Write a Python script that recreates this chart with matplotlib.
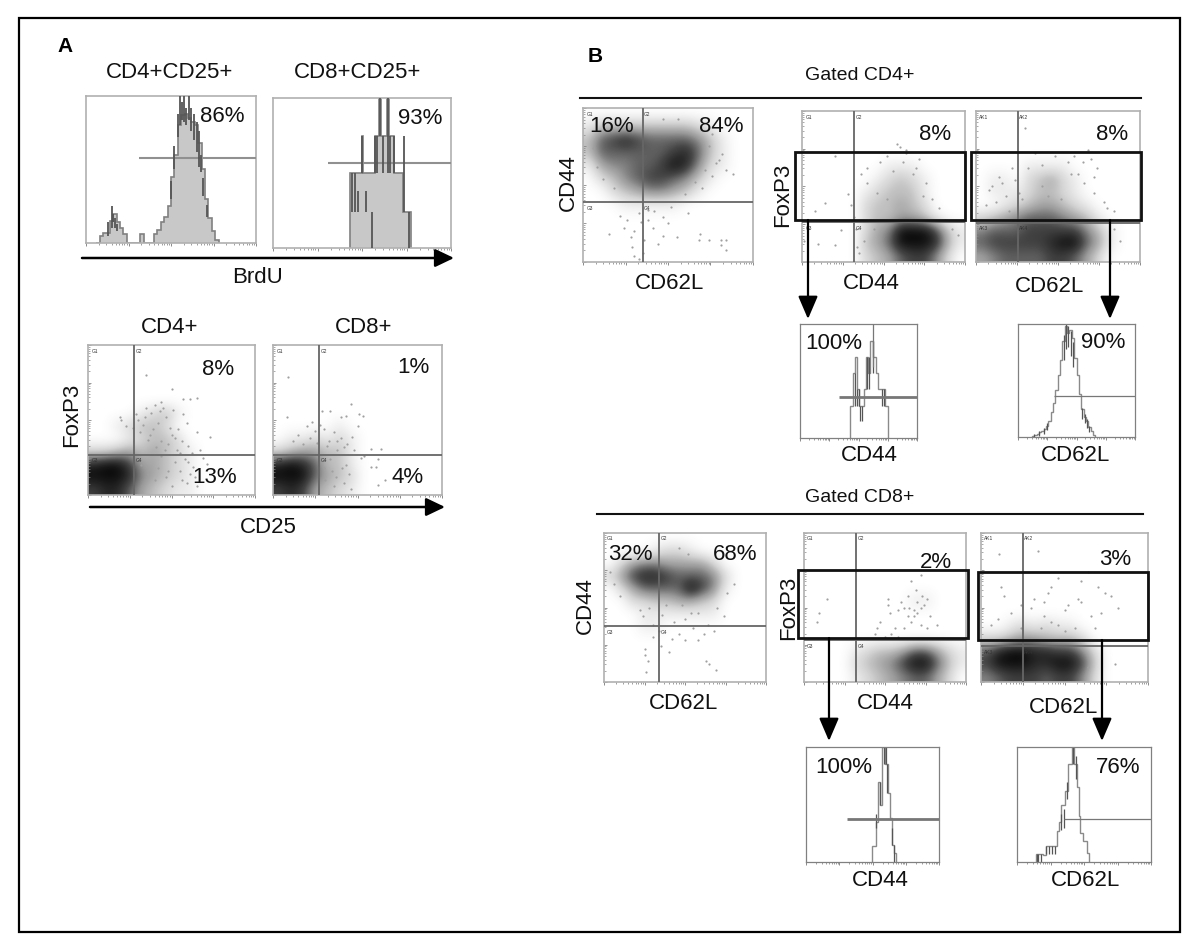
import matplotlib
matplotlib.use('Agg')
import matplotlib.pyplot as plt
import numpy as np
from matplotlib.colors import LinearSegmentedColormap
from matplotlib.patches import Rectangle

plt.rcParams['font.family'] = ['Liberation Sans', 'DejaVu Sans']

W, H = 1200, 946
cmap_dots = LinearSegmentedColormap.from_list('dots', ['#ffffff', '#d4d4d4', '#989898', '#464646', '#0c0c0c'])

# Histograms, x and height in percent of the panel
brdu_cd4_edges = list(range(6, 80, 2))
brdu_cd4_heights = [0, 5, 7, 7, 15, 20, 14, 10, 6, 0, 0, 0, 0, 6, 0, 0, 0, 6, 9, 14, 18, 25, 45, 60, 80, 87, 88, 85,
                    82, 80, 68, 50, 30, 17, 8, 2]
brdu_cd4_spike_x = [13, 15, 16, 17, 18, 50, 52, 54, 55.5, 56.5, 57.5, 59, 60.5, 62, 63.5, 65, 66.5, 67.5, 69, 71]
brdu_cd4_spike_lo = [5, 10, 14, 10, 8, 30, 50, 72, 80, 84, 82, 80, 84, 76, 70, 62, 52, 48, 32, 18]
brdu_cd4_spike_hi = [14, 25, 20, 17, 13, 42, 66, 88, 100, 96, 100, 92, 100, 92, 88, 82, 76, 60, 44, 26]

brdu_cd8_edges = [43.2, 45.7, 49.8, 50.4, 56.4, 57.3, 59.2, 59.6, 60.5, 63, 63.9, 65.4, 67.7, 73.3, 74.2, 77.4]
brdu_cd8_heights = [50, 50, 75, 50, 50, 75, 75, 100, 75, 75, 100, 75, 50, 24, 24]
brdu_cd8_spike_x = [44.5, 46, 48, 49.8, 52.5, 55.7, 57.5, 58.5, 60, 62, 64.5, 66, 68, 73.5, 76.5]
brdu_cd8_spike_lo = [24, 24, 24, 50, 24, 0, 50, 50, 75, 50, 50, 50, 50, 24, 0]
brdu_cd8_spike_hi = [50, 50, 38, 75, 38, 24, 75, 75, 100, 75, 100, 75, 75, 75, 24]

gate_cd44_cd4_edges = [43, 45, 46.6, 48.5, 50.6, 53.4, 54.5, 56.2, 58.2, 60.2, 62.5, 64.8, 67, 69.3, 72.7, 75.6]
gate_cd44_cd4_heights = [28, 57, 71, 43, 28, 28, 43, 71, 57, 85, 71, 57, 43, 43, 28]
gate_cd44_cd4_spike_x = [47, 48.5, 50, 51, 53, 57.4, 59, 62.5, 70.5, 72]
gate_cd44_cd4_spike_lo = [28, 28, 28, 15, 15, 43, 43, 57, 28, 28]
gate_cd44_cd4_spike_hi = [57, 43, 43, 28, 28, 71, 71, 85, 43, 43]

gate_cd62l_cd4_edges = list(range(12, 68, 2))
gate_cd62l_cd4_heights = [1, 2, 3, 4, 5, 7, 10, 14, 22, 30, 42, 55, 68, 85, 98, 92, 95, 88, 70, 55, 38, 25, 18, 14, 9,
                          5, 2]
gate_cd62l_cd4_spike_x = [14, 18, 22, 25, 39, 41, 43, 45, 47, 55, 57, 59, 61]
gate_cd62l_cd4_spike_lo = [0, 1, 3, 6, 68, 78, 80, 72, 62, 16, 12, 8, 4]
gate_cd62l_cd4_spike_hi = [3, 5, 8, 12, 90, 100, 98, 94, 84, 26, 20, 16, 10]

gate_cd44_cd8_edges = [49.25, 52.5, 54.25, 56, 57.5, 59.75, 61.5, 63, 64.75, 66.25, 67.5]
gate_cd44_cd8_heights = [14, 35, 70, 50, 100, 85, 60, 38, 15, 8]
gate_cd44_cd8_spike_x = [53, 55.5, 58.5, 60, 61, 64.5, 66.5]
gate_cd44_cd8_spike_lo = [30, 50, 85, 85, 60, 15, 0]
gate_cd44_cd8_spike_hi = [42, 70, 100, 100, 85, 30, 15]

gate_cd62l_cd8_edges = [14, 19.5, 22, 29.5, 31.5, 33, 36, 38, 41, 42.5, 44.5, 46, 47, 49.5, 52, 53.75]
gate_cd62l_cd8_heights = [7, 6, 14, 27, 35, 50, 62, 85, 100, 85, 65, 40, 25, 18, 8]
gate_cd62l_cd8_spike_x = [15, 16, 18, 22, 24, 26, 28, 33, 35, 37, 42, 44]
gate_cd62l_cd8_spike_lo = [0, 0, 0, 7, 7, 7, 7, 28, 30, 55, 85, 72]
gate_cd62l_cd8_spike_hi = [7, 7, 7, 14, 14, 14, 14, 42, 46, 70, 100, 92]

# Dot plot darkness read per cell, 0 white to 9 black, top row first
foxp3_cd4_density = [
    [0, 0, 0, 0, 0, 0, 0, 0, 0, 0, 0, 0, 0, 0],
    [0, 0, 0, 0, 0, 0, 0, 0, 0, 0, 0, 0, 0, 0],
    [0, 0, 0, 0, 0, 0, 0, 0, 0, 0, 0, 0, 0, 0],
    [0, 0, 0, 0, 0, 0, 0, 0, 0, 0, 0, 0, 0, 0],
    [0, 0, 0, 0, 0, 0, 0, 0, 0, 0, 0, 0, 0, 0],
    [0, 0, 0, 0, 1, 2, 3, 1, 0, 0, 0, 0, 0, 0],
    [0, 0, 1, 2, 3, 3, 2, 0, 0, 0, 0, 0, 0, 0],
    [0, 0, 0, 1, 2, 3, 3, 2, 0, 0, 0, 0, 0, 0],
    [2, 2, 3, 4, 3, 4, 3, 2, 1, 0, 0, 0, 0, 0],
    [8, 9, 9, 7, 4, 4, 3, 2, 1, 0, 0, 0, 0, 0],
    [9, 9, 9, 8, 5, 4, 3, 2, 1, 0, 0, 0, 0, 0],
    [7, 8, 8, 6, 4, 3, 2, 1, 1, 0, 0, 0, 0, 0],
]
foxp3_cd8_density = [
    [0, 0, 0, 0, 0, 0, 0, 0, 0, 0, 0, 0, 0, 0],
    [0, 0, 0, 0, 0, 0, 0, 0, 0, 0, 0, 0, 0, 0],
    [0, 0, 0, 0, 0, 0, 0, 0, 0, 0, 0, 0, 0, 0],
    [0, 0, 0, 0, 0, 0, 0, 0, 0, 0, 0, 0, 0, 0],
    [0, 0, 0, 0, 0, 0, 0, 0, 0, 0, 0, 0, 0, 0],
    [0, 0, 0, 0, 0, 0, 0, 0, 0, 0, 0, 0, 0, 0],
    [0, 0, 0, 0, 0, 1, 0, 0, 0, 0, 0, 0, 0, 0],
    [0, 1, 1, 2, 1, 2, 1, 0, 0, 0, 0, 0, 0, 0],
    [2, 3, 4, 4, 3, 3, 1, 0, 0, 0, 0, 0, 0, 0],
    [8, 9, 8, 6, 3, 3, 1, 0, 0, 0, 0, 0, 0, 0],
    [9, 9, 9, 6, 4, 3, 2, 0, 0, 0, 0, 0, 0, 0],
    [7, 8, 7, 4, 3, 2, 1, 0, 0, 0, 0, 0, 0, 0],
]
cd44_cd62l_cd4_density = [
    [0, 0, 0, 0, 0, 0, 0, 0, 0, 0, 0, 0, 0, 0],
    [1, 3, 3, 3, 3, 3, 3, 3, 3, 2, 1, 0, 0, 0],
    [3, 6, 7, 8, 7, 6, 6, 6, 6, 5, 3, 1, 0, 0],
    [3, 6, 6, 6, 6, 6, 6, 7, 8, 6, 3, 1, 0, 0],
    [1, 4, 5, 5, 6, 6, 7, 9, 8, 5, 2, 1, 0, 0],
    [0, 2, 3, 5, 6, 7, 7, 6, 5, 3, 1, 0, 0, 0],
    [0, 0, 2, 3, 4, 5, 5, 4, 3, 1, 0, 0, 0, 0],
    [0, 0, 0, 1, 1, 1, 1, 1, 0, 0, 0, 0, 0, 0],
    [0, 0, 0, 0, 0, 0, 0, 0, 0, 0, 0, 0, 0, 0],
    [0, 0, 0, 0, 0, 0, 0, 0, 0, 0, 0, 0, 0, 0],
    [0, 0, 0, 0, 0, 0, 0, 0, 0, 0, 0, 0, 0, 0],
    [0, 0, 0, 0, 0, 0, 0, 0, 0, 0, 0, 0, 0, 0],
]
foxp3_cd44_cd4_density = [
    [0, 0, 0, 0, 0, 0, 0, 0, 0, 0, 0, 0, 0, 0],
    [0, 0, 0, 0, 0, 0, 0, 0, 0, 0, 0, 0, 0, 0],
    [0, 0, 0, 0, 0, 0, 0, 0, 0, 0, 0, 0, 0, 0],
    [0, 0, 0, 0, 0, 0, 0, 0, 0, 0, 0, 0, 0, 0],
    [0, 0, 0, 0, 0, 0, 0, 1, 1, 1, 0, 0, 0, 0],
    [0, 0, 0, 0, 0, 0, 1, 2, 3, 2, 1, 0, 0, 0],
    [0, 0, 0, 0, 0, 1, 2, 3, 3, 3, 1, 0, 0, 0],
    [0, 0, 0, 0, 0, 2, 3, 3, 4, 3, 2, 0, 0, 0],
    [0, 0, 0, 0, 0, 2, 3, 3, 4, 4, 3, 1, 0, 0],
    [0, 0, 0, 0, 0, 2, 4, 5, 9, 9, 9, 7, 3, 1],
    [0, 0, 0, 0, 0, 3, 4, 6, 9, 9, 9, 8, 4, 1],
    [0, 0, 0, 0, 0, 2, 3, 4, 6, 7, 7, 5, 2, 0],
]
foxp3_cd62l_cd4_density = [
    [0, 0, 0, 0, 0, 0, 0, 0, 0, 0, 0, 0, 0, 0],
    [0, 0, 0, 0, 0, 0, 0, 0, 0, 0, 0, 0, 0, 0],
    [0, 0, 0, 0, 0, 0, 0, 0, 0, 0, 0, 0, 0, 0],
    [0, 0, 0, 0, 0, 0, 0, 0, 0, 0, 0, 0, 0, 0],
    [0, 0, 0, 0, 1, 1, 1, 1, 0, 0, 0, 0, 0, 0],
    [0, 1, 1, 0, 2, 3, 4, 2, 1, 0, 0, 0, 0, 0],
    [0, 1, 1, 1, 2, 3, 3, 2, 1, 0, 0, 0, 0, 0],
    [0, 0, 1, 2, 3, 4, 4, 3, 2, 1, 0, 0, 0, 0],
    [2, 3, 4, 5, 6, 6, 6, 5, 4, 3, 1, 0, 0, 0],
    [5, 6, 6, 6, 7, 7, 7, 7, 7, 5, 3, 1, 0, 0],
    [6, 7, 7, 7, 7, 7, 8, 9, 9, 6, 4, 1, 0, 0],
    [4, 5, 6, 6, 6, 6, 7, 7, 6, 4, 2, 0, 0, 0],
]
cd44_cd62l_cd8_density = [
    [0, 0, 0, 0, 0, 0, 0, 0, 0, 0, 0, 0, 0, 0],
    [0, 0, 0, 0, 1, 2, 2, 1, 0, 0, 0, 0, 0, 0],
    [0, 2, 4, 5, 5, 4, 4, 4, 4, 2, 0, 0, 0, 0],
    [2, 4, 7, 8, 8, 7, 6, 6, 6, 5, 2, 0, 0, 0],
    [0, 2, 4, 6, 6, 6, 6, 9, 7, 5, 1, 0, 0, 0],
    [0, 0, 2, 2, 3, 3, 4, 4, 3, 2, 0, 0, 0, 0],
    [0, 0, 0, 1, 1, 1, 1, 1, 1, 1, 0, 0, 0, 0],
    [0, 0, 0, 1, 1, 0, 0, 0, 0, 0, 0, 0, 0, 0],
    [0, 0, 0, 0, 0, 0, 0, 0, 0, 0, 0, 0, 0, 0],
    [0, 0, 0, 0, 0, 0, 0, 0, 0, 0, 0, 0, 0, 0],
    [0, 0, 0, 0, 0, 0, 0, 0, 0, 0, 0, 0, 0, 0],
    [0, 0, 0, 0, 0, 0, 0, 0, 0, 0, 0, 0, 0, 0],
]
foxp3_cd44_cd8_density = [
    [0, 0, 0, 0, 0, 0, 0, 0, 0, 0, 0, 0, 0, 0],
    [0, 0, 0, 0, 0, 0, 0, 0, 0, 0, 0, 0, 0, 0],
    [0, 0, 0, 0, 0, 0, 0, 0, 0, 0, 0, 0, 0, 0],
    [0, 0, 0, 0, 0, 0, 0, 0, 0, 0, 0, 0, 0, 0],
    [0, 0, 0, 0, 0, 0, 0, 0, 0, 0, 0, 0, 0, 0],
    [0, 0, 0, 0, 0, 0, 0, 0, 0, 1, 1, 0, 0, 0],
    [0, 0, 0, 0, 0, 0, 0, 0, 0, 0, 0, 0, 0, 0],
    [0, 0, 0, 0, 0, 0, 0, 0, 0, 0, 0, 0, 0, 0],
    [0, 0, 0, 0, 0, 0, 0, 0, 0, 0, 0, 0, 0, 0],
    [0, 0, 0, 0, 1, 2, 3, 3, 4, 6, 6, 4, 2, 1],
    [0, 0, 0, 0, 2, 3, 4, 5, 7, 9, 9, 6, 3, 1],
    [0, 0, 0, 0, 1, 2, 3, 4, 5, 6, 6, 4, 2, 0],
]
foxp3_cd62l_cd8_density = [
    [0, 0, 0, 0, 0, 0, 0, 0, 0, 0, 0, 0, 0, 0],
    [0, 0, 0, 0, 0, 0, 0, 0, 0, 0, 0, 0, 0, 0],
    [0, 0, 0, 0, 0, 0, 0, 0, 0, 0, 0, 0, 0, 0],
    [0, 0, 0, 0, 0, 0, 0, 0, 0, 0, 0, 0, 0, 0],
    [0, 0, 0, 0, 0, 0, 0, 0, 0, 0, 0, 0, 0, 0],
    [0, 0, 0, 0, 0, 0, 0, 0, 0, 0, 0, 0, 0, 0],
    [0, 0, 0, 0, 0, 0, 0, 0, 0, 0, 0, 0, 0, 0],
    [0, 0, 1, 2, 1, 2, 1, 1, 0, 0, 0, 0, 0, 0],
    [2, 2, 3, 4, 4, 3, 3, 3, 2, 0, 0, 0, 0, 0],
    [6, 8, 9, 9, 8, 8, 7, 7, 5, 2, 0, 0, 0, 0],
    [7, 9, 9, 9, 8, 8, 9, 9, 7, 3, 0, 0, 0, 0],
    [5, 6, 7, 7, 7, 6, 7, 7, 5, 2, 0, 0, 0, 0],
]

# Loose single events in each dot plot, in percent of the panel
foxp3_cd4_x = [35, 50, 65, 61, 57, 73, 19, 44, 51, 57, 59, 65, 69, 71, 63, 59, 65, 20, 23, 27, 30, 38, 42, 47, 54, 56,
               60, 53, 62, 50, 35, 40, 45, 33, 37, 44, 48, 52, 55, 58, 61, 47, 50, 42, 29, 31, 34, 36, 39, 41, 43, 46,
               49, 52, 55, 32, 36, 40, 44, 48, 56, 60, 64, 67]
foxp3_cd4_y = [80, 71, 65, 64, 64, 39, 52, 62, 57, 54, 48, 42, 25, 21, 19, 8, 6, 50, 46, 45, 50, 55, 48, 52, 44, 36,
               33, 30, 28, 40, 58, 60, 58, 47, 40, 36, 34, 22, 16, 24, 14, 12, 6, 18, 54, 42, 52, 37, 44, 32, 56, 30,
               45, 38, 28, 20, 14, 10, 26, 16, 10, 22, 12, 30]
foxp3_cd8_x = [9, 46, 53, 51, 29, 34, 8, 40, 43, 23, 58, 64, 62, 61, 58, 54, 66, 62, 46, 42, 50, 47, 44, 20, 25, 15,
               30, 36, 40, 33, 28, 38, 48, 52, 43, 35, 31, 12, 18, 22, 26, 32, 38, 42, 34, 30, 37, 41, 45, 36]
foxp3_cd8_y = [79, 61, 53, 54, 56, 56, 52, 52, 53, 49, 31, 31, 24, 19, 19, 26, 10, 7, 4, 8, 46, 39, 34, 46, 43, 40,
               44, 42, 38, 36, 47, 30, 30, 25, 20, 16, 10, 36, 34, 38, 35, 33, 36, 32, 24, 18, 12, 18, 14, 6]
cd44_cd62l_cd4_x = [15, 26, 29, 30, 33, 38, 42, 47, 62, 47, 55, 69, 68, 74, 81, 81, 84, 84, 88, 80, 76, 74, 56, 47,
                    30, 24, 35, 36, 34, 38, 41, 50, 44, 52, 28, 33, 60, 66, 72, 22, 6, 8, 12, 18, 70, 76, 78, 82, 84]
cd44_cd62l_cd4_y = [18, 27, 10, 4, 32, 27, 33, 29, 32, 17, 16, 18, 14, 14, 14, 11, 14, 8, 57, 66, 83, 75, 93, 93,
                    20, 22, 6, 14, 26, 34, 22, 25, 12, 36, 16, 2, 44, 52, 60, 30, 74, 62, 54, 48, 48, 56, 64, 70, 60]
foxp3_cd44_cd4_x = [20, 28, 14, 8, 10, 20, 24, 1, 40, 72, 36, 52, 64, 76, 80, 84, 88, 92, 96, 38, 44, 34, 32, 30, 70,
                    60, 48, 56, 62, 68, 74, 40, 46, 52, 58, 64, 33, 35]
foxp3_cd44_cd4_y = [70, 45, 39, 34, 12, 11, 21, 14, 62, 68, 58, 70, 72, 52, 42, 36, 28, 22, 18, 14, 22, 10, 30, 38,
                    62, 76, 66, 60, 66, 58, 44, 52, 46, 42, 78, 74, 22, 6]
foxp3_cd62l_cd4_x = [30, 10, 14, 8, 18, 12, 22, 6, 16, 20, 26, 32, 60, 65, 70, 74, 58, 40, 48, 56, 62, 66, 72, 72,
                     78, 80, 84, 84, 40, 36, 44, 52, 68, 28, 24, 88]
foxp3_cd62l_cd4_y = [89, 50, 56, 48, 44, 40, 62, 38, 52, 34, 46, 62, 70, 66, 68, 62, 58, 64, 70, 66, 58, 52, 46, 56,
                     40, 36, 34, 22, 50, 72, 44, 42, 74, 42, 54, 14]
cd44_cd62l_cd8_x = [25, 27, 26, 30, 25, 35, 42, 58, 63, 65, 69, 34, 40, 46, 50, 55, 62, 68, 24, 30, 36, 43, 50, 58, 64,
                    74, 22, 28, 38, 48, 54, 70, 76, 80, 46, 52, 10, 6, 4]
cd44_cd62l_cd8_y = [22, 14, 7, 30, 18, 24, 29, 28, 14, 12, 8, 34, 20, 32, 28, 36, 32, 34, 44, 38, 45, 40, 42, 46, 38,
                    44, 48, 50, 52, 52, 46, 50, 60, 66, 90, 86, 58, 66, 74]
foxp3_cd44_cd8_x = [14, 9, 8, 66, 69, 64, 70, 52, 53, 62, 58, 72, 74, 68, 76, 64, 60, 52, 47, 45, 56, 66, 72, 76, 82,
                    62, 54, 70, 73, 65, 68, 78, 50, 44, 58, 72]
foxp3_cd44_cd8_y = [56, 46, 40, 68, 62, 58, 54, 52, 46, 50, 48, 50, 52, 44, 56, 44, 54, 56, 40, 36, 36, 40, 38, 36,
                    38, 36, 32, 46, 58, 50, 48, 44, 30, 32, 30, 72]
foxp3_cd62l_cd8_x = [11, 12, 14, 30, 38, 40, 42, 46, 52, 58, 60, 64, 70, 74, 78, 82, 72, 66, 60, 50, 38, 32, 24, 18,
                     42, 46, 50, 56, 24, 36, 34, 10, 6, 68, 80, 64]
foxp3_cd62l_cd8_y = [86, 64, 58, 50, 54, 60, 64, 70, 52, 56, 68, 74, 64, 60, 58, 50, 46, 44, 54, 48, 44, 56, 52, 46,
                     40, 38, 34, 36, 36, 36, 88, 42, 38, 36, 12, 10]

# Panel rectangles as left, top, right, bottom pixels; gate lines in percent
panels_dots = [
    ((88, 345, 255, 495), foxp3_cd4_density, foxp3_cd4_x, foxp3_cd4_y, 27.5, 27, ['G1', 'G2', 'G3', 'G4']),
    ((273, 345, 442, 495), foxp3_cd8_density, foxp3_cd8_x, foxp3_cd8_y, 27, 27, ['G1', 'G2', 'G3', 'G4']),
    ((583, 108, 753, 262), cd44_cd62l_cd4_density, cd44_cd62l_cd4_x, cd44_cd62l_cd4_y, 35, 39,
     ['G1', 'G2', 'G3', 'G4']),
    ((802, 111, 965, 262), foxp3_cd44_cd4_density, foxp3_cd44_cd4_x, foxp3_cd44_cd4_y, 32, 26.5,
     ['G1', 'G2', 'G3', 'G4']),
    ((976, 111, 1140, 262), foxp3_cd62l_cd4_density, foxp3_cd62l_cd4_x, foxp3_cd62l_cd4_y, 25.5, 26,
     ['AK1', 'AK2', 'AK3', 'AK4']),
    ((604, 533, 766, 682), cd44_cd62l_cd8_density, cd44_cd62l_cd8_x, cd44_cd62l_cd8_y, 34, 37.5,
     ['G1', 'G2', 'G3', 'G4']),
    ((804, 533, 966, 682), foxp3_cd44_cd8_density, foxp3_cd44_cd8_x, foxp3_cd44_cd8_y, 32, 28,
     ['G1', 'G2', 'G3', 'G4']),
    ((981, 533, 1148, 682), foxp3_cd62l_cd8_density, foxp3_cd62l_cd8_x, foxp3_cd62l_cd8_y, 25, 24,
     ['AK1', 'AK2', 'AK3', 'AK4']),
]

panels_hist = [
    ((86, 96, 256, 243), brdu_cd4_edges, brdu_cd4_heights, '#c8c8c8', (31, 58),
     (brdu_cd4_spike_x, brdu_cd4_spike_lo, brdu_cd4_spike_hi)),
    ((273, 98, 451, 248), brdu_cd8_edges, brdu_cd8_heights, '#c8c8c8', (31, 57),
     (brdu_cd8_spike_x, brdu_cd8_spike_lo, brdu_cd8_spike_hi)),
    ((800, 324, 917, 438), gate_cd44_cd4_edges, gate_cd44_cd4_heights, 'none', (33, 36),
     (gate_cd44_cd4_spike_x, gate_cd44_cd4_spike_lo, gate_cd44_cd4_spike_hi)),
    ((1018, 324, 1135, 437), gate_cd62l_cd4_edges, gate_cd62l_cd4_heights, 'none', (31, 36),
     (gate_cd62l_cd4_spike_x, gate_cd62l_cd4_spike_lo, gate_cd62l_cd4_spike_hi)),
    ((806, 747, 939, 862), gate_cd44_cd8_edges, gate_cd44_cd8_heights, 'none', (31, 37),
     (gate_cd44_cd8_spike_x, gate_cd44_cd8_spike_lo, gate_cd44_cd8_spike_hi)),
    ((1017, 747, 1151, 862), gate_cd62l_cd8_edges, gate_cd62l_cd8_heights, 'none', (35, 37),
     (gate_cd62l_cd8_spike_x, gate_cd62l_cd8_spike_lo, gate_cd62l_cd8_spike_hi)),
]
gate_vline_x = {2: (62, 100, 62.5)}

labels_text = [
    ('CD4+CD25+', 170, 73), ('CD8+CD25+', 358, 73), ('86%', 222, 116), ('93%', 420, 119), ('BrdU', 258, 277),
    ('CD4+', 170, 327), ('CD8+', 364, 327), ('8%', 218, 369), ('13%', 215, 477), ('1%', 413, 367), ('4%', 408, 477),
    ('CD25', 268, 527), ('Gated CD4+', 860, 76), ('16%', 612, 127), ('84%', 721, 127), ('CD62L', 670, 283),
    ('8%', 935, 135), ('8%', 1112, 135), ('CD44', 871, 283), ('CD62L', 1050, 286), ('100%', 834, 343),
    ('90%', 1103, 342), ('CD44', 869, 455), ('CD62L', 1076, 455), ('Gated CD8+', 860, 497), ('32%', 630, 554),
    ('68%', 735, 554), ('CD62L', 684, 703), ('2%', 936, 562), ('3%', 1115, 559), ('CD44', 885, 703),
    ('CD62L', 1063, 707), ('100%', 844, 767), ('76%', 1118, 767), ('CD44', 880, 880), ('CD62L', 1085, 880),
]
labels_rotated = [('FoxP3', 72, 415), ('CD44', 568, 183), ('FoxP3', 783, 195), ('CD44', 585, 606), ('FoxP3', 789, 608)]
gate_boxes = [(795, 152, 965, 220), (971, 152, 1141, 220), (798, 570, 968, 638), (978, 572, 1148, 640)]
rules = [(580, 1141, 98), (597, 1143, 514)]
arrows_long = [(82, 258, 454, 258), (90, 507, 445, 507)]
arrows_gate = [(808, 220, 808, 319), (1110, 220, 1110, 319), (829, 638, 829, 741), (1102, 640, 1102, 741)]


def add_panel(fig, rect):
    left, top, right, bottom = rect
    return fig.add_axes([left / W, 1 - bottom / H, (right - left) / W, (bottom - top) / H])


def log_ticks(ax, axis):
    major = [0, 25, 50, 75, 100]
    minor = [25 * (d + np.log10(m)) for d in range(4) for m in range(2, 10)]
    if axis == 'x':
        ax.set_xticks(major)
        ax.set_xticks(minor, minor=True)
    else:
        ax.set_yticks(major)
        ax.set_yticks(minor, minor=True)


def style_panel(ax, frame_color, lw):
    ax.set_xlim(0, 100)
    ax.set_ylim(0, 100)
    log_ticks(ax, 'x')
    ax.tick_params(axis='x', which='major', length=2.5, width=0.6, color='#777777', labelbottom=False)
    ax.tick_params(axis='x', which='minor', length=1.3, width=0.5, color='#777777')
    for s in ax.spines.values():
        s.set_color(frame_color)
        s.set_linewidth(lw)


fig = plt.figure(figsize=(W / 100, H / 100), dpi=100, facecolor='white')

for rect, density, dot_x, dot_y, vx, hy, quad in panels_dots:
    ax = add_panel(fig, rect)
    ax.imshow(density, cmap=cmap_dots, vmin=0, vmax=9, extent=(0, 100, 0, 100), aspect='auto',
              interpolation='bicubic', zorder=1)
    ax.scatter(dot_x, dot_y, s=2.5, c='#a0a0a0', linewidths=0, zorder=2)
    ax.axvline(vx, color='#666666', lw=1.3, zorder=3)
    ax.axhline(hy, color='#666666', lw=1.3, zorder=3)
    style_panel(ax, '#b0b0b0', 1.2)
    log_ticks(ax, 'y')
    ax.tick_params(axis='y', which='major', direction='in', length=2.5, width=0.6, color='#888888', labelleft=False)
    ax.tick_params(axis='y', which='minor', direction='in', length=1.3, width=0.5, color='#888888')
    ax.text(2, 96, quad[0], fontsize=3.5, color='#333333', va='center', zorder=4)
    ax.text(vx + 1, 96, quad[1], fontsize=3.5, color='#333333', va='center', zorder=4)
    ax.text(2, hy - 4, quad[2], fontsize=3.5, color='#333333', va='center', zorder=4)
    ax.text(vx + 1, hy - 4, quad[3], fontsize=3.5, color='#333333', va='center', zorder=4)

for i, (rect, edges, heights, fill, gate, spikes) in enumerate(panels_hist):
    ax = add_panel(fig, rect)
    if fill != 'none':
        ax.stairs(heights, edges, fill=True, color=fill, zorder=1)
        ax.stairs(heights, edges, color='#808080', lw=1.2, zorder=2)
        ax.hlines(gate[1], gate[0], 100, color='#909090', lw=1.5, zorder=3)
        ax.vlines(spikes[0], spikes[1], spikes[2], color='#555555', lw=1.3, zorder=4)
        style_panel(ax, '#b0b0b0', 1.2)
    else:
        ax.stairs(heights, edges, color='#8a8a8a', lw=1.0, zorder=2)
        ax.vlines(spikes[0], spikes[1], spikes[2], color='#555555', lw=0.9, zorder=2)
        ax.hlines(gate[1], gate[0], 100, color='#777777', lw=2.0 if i % 2 == 0 else 0.9, zorder=3)
        style_panel(ax, '#808080', 0.9)
    if i in gate_vline_x:
        vx, hi, lo = gate_vline_x[i]
        ax.vlines(vx, lo, hi, color='#777777', lw=0.9, zorder=3)
    ax.set_yticks([])

# Overlay in pixel coordinates for the labels, gates and arrows
ov = fig.add_axes([0, 0, 1, 1], zorder=10)
ov.set_xlim(0, W)
ov.set_ylim(H, 0)
ov.axis('off')
ov.patch.set_alpha(0)

ov.add_patch(Rectangle((19, 18), 1161, 914, fill=False, ec='black', lw=1.6))
for left, top, right, bottom in gate_boxes:
    ov.add_patch(Rectangle((left, top), right - left, bottom - top, fill=False, ec='#111111', lw=2.0))
for x0, x1, y in rules:
    ov.plot([x0, x1], [y, y], color='#111111', lw=1.5)
for x0, y0, x1, y1 in arrows_long:
    ov.annotate('', xy=(x1, y1), xytext=(x0, y0),
                arrowprops=dict(arrowstyle='-|>,head_length=11.5,head_width=5.5', mutation_scale=1, lw=1.8,
                                color='black', shrinkA=0, shrinkB=0))
for x0, y0, x1, y1 in arrows_gate:
    ov.annotate('', xy=(x1, y1), xytext=(x0, y0),
                arrowprops=dict(arrowstyle='-|>,head_length=14,head_width=6', mutation_scale=1, lw=1.6,
                                color='black', shrinkA=0, shrinkB=0))

ov.text(65, 46, 'A', fontsize=15, fontweight='bold', ha='center', va='center')
ov.text(595, 57, 'B', fontsize=15, fontweight='bold', ha='center', va='center')
for txt, x, y in labels_text:
    ov.text(x, y, txt, fontsize=16 if 'Gated' not in txt else 14, ha='center', va='center', color='#111111')
for txt, x, y in labels_rotated:
    ov.text(x, y, txt, fontsize=16, rotation=90, ha='center', va='center', color='#111111')

fig.savefig('out.png', dpi=100)
